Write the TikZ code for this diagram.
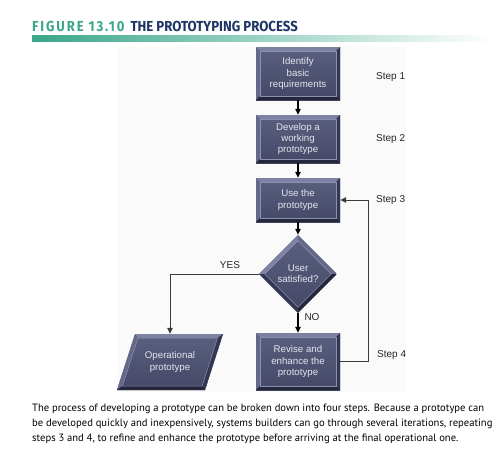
\documentclass[tikz,border=0pt]{standalone}
\usepackage{fontspec}
\setmainfont{Liberation Sans}
\newfontfamily\titlefont{Fira Sans}[FakeStretch=0.91]
\newfontfamily\titlefontsp{Fira Sans}[FakeStretch=0.9,LetterSpace=13]
\newfontfamily\capfont{PT Sans}
\usetikzlibrary{arrows.meta,shapes.geometric}
\definecolor{figteal}{RGB}{58,166,138}
\definecolor{fignavy}{RGB}{30,52,100}
\definecolor{faceA}{RGB}{92,96,128}
\definecolor{faceB}{RGB}{68,72,102}
\definecolor{faceline}{RGB}{140,144,175}
\definecolor{bevT}{RGB}{125,129,162}
\definecolor{bevL}{RGB}{100,104,138}
\definecolor{bevR}{RGB}{52,55,82}
\definecolor{bevB}{RGB}{36,38,60}
\definecolor{boxtext}{RGB}{228,228,238}
\definecolor{linegray}{RGB}{60,60,60}
\definecolor{panel}{RGB}{250,250,250}
\newcommand\bevrect{%
 \coordinate (sw) at (path picture bounding box.south west);
 \coordinate (ne) at (path picture bounding box.north east);
 \coordinate (nw) at (path picture bounding box.north west);
 \coordinate (se) at (path picture bounding box.south east);
 \shade[top color=faceA,bottom color=faceB] (sw) rectangle (ne);
 \fill[bevT] (nw) -- (ne) -- ([shift={(-4pt,-4pt)}]ne) -- ([shift={(4pt,-4pt)}]nw) -- cycle;
 \fill[bevL] (nw) -- (sw) -- ([shift={(4pt,4pt)}]sw) -- ([shift={(4pt,-4pt)}]nw) -- cycle;
 \fill[bevR] (ne) -- (se) -- ([shift={(-4pt,4pt)}]se) -- ([shift={(-4pt,-4pt)}]ne) -- cycle;
 \fill[bevB] (sw) -- (se) -- ([shift={(-4pt,4pt)}]se) -- ([shift={(4pt,4pt)}]sw) -- cycle;
 \draw[faceline,line width=0.5pt] ([shift={(4pt,4pt)}]sw) rectangle ([shift={(-4pt,-4pt)}]ne);
}
\newcommand\bevdiam{%
 \coordinate (sw) at (path picture bounding box.south west);
 \coordinate (ne) at (path picture bounding box.north east);
 \coordinate (dT) at (path picture bounding box.north);
 \coordinate (dB) at (path picture bounding box.south);
 \coordinate (dL) at (path picture bounding box.west);
 \coordinate (dR) at (path picture bounding box.east);
 \shade[top color=faceA,bottom color=faceB] (sw) rectangle (ne);
 \fill[bevT] (dL) -- (dT) -- ([yshift=-5.7pt]dT) -- ([xshift=5.7pt]dL) -- cycle;
 \fill[bevL] (dT) -- (dR) -- ([xshift=-5.7pt]dR) -- ([yshift=-5.7pt]dT) -- cycle;
 \fill[bevB] (dR) -- (dB) -- ([yshift=5.7pt]dB) -- ([xshift=-5.7pt]dR) -- cycle;
 \fill[bevR] (dB) -- (dL) -- ([xshift=5.7pt]dL) -- ([yshift=5.7pt]dB) -- cycle;
 \draw[faceline,line width=0.5pt] ([yshift=-5.7pt]dT) -- ([xshift=-5.7pt]dR) -- ([yshift=5.7pt]dB) -- ([xshift=5.7pt]dL) -- cycle;
}
\newcommand\bevpar{%
 \coordinate (pA) at (path picture bounding box.south west);
 \coordinate (pB) at ([xshift=18pt]path picture bounding box.north west);
 \coordinate (pC) at (path picture bounding box.north east);
 \coordinate (pD) at ([xshift=-18pt]path picture bounding box.south east);
 \coordinate (qA) at ([shift={(5.5pt,4pt)}]pA);
 \coordinate (qB) at ([shift={(2.9pt,-4pt)}]pB);
 \coordinate (qC) at ([shift={(-5.5pt,-4pt)}]pC);
 \coordinate (qD) at ([shift={(-2.9pt,4pt)}]pD);
 \shade[top color=faceA,bottom color=faceB] (pA) -- (pB) -- (pC) -- (pD) -- cycle;
 \fill[bevT] (pB) -- (pC) -- (qC) -- (qB) -- cycle;
 \fill[bevL] (pA) -- (pB) -- (qB) -- (qA) -- cycle;
 \fill[bevR] (pC) -- (pD) -- (qD) -- (qC) -- cycle;
 \fill[bevB] (pA) -- (pD) -- (qD) -- (qA) -- cycle;
 \draw[faceline,line width=0.5pt] (qA) -- (qB) -- (qC) -- (qD) -- cycle;
}
\tikzset{
 boxtxt/.style={inner sep=0pt, align=center, text=boxtext, font=\fontsize{9.7}{11.2}\selectfont},
 stepbox/.style={boxtxt, minimum width=84pt, minimum height=#1, path picture={\bevrect}},
 decbox/.style={boxtxt, shape=diamond, aspect=1, minimum width=78pt, minimum height=78pt, path picture={\bevdiam}},
 parbox/.style={boxtxt, minimum width=106pt, minimum height=56pt, path picture={\bevpar}},
 steplbl/.style={anchor=west, inner sep=0pt, text=black!85, font=\fontsize{10}{12}\selectfont},
 arr/.style={draw=black, line width=1.1pt, -{Triangle[length=6pt,width=5.5pt]}},
 grayarr/.style={draw=linegray, line width=1pt, -{Triangle[length=6pt,width=5.5pt]}, color=linegray},
 caption/.style={anchor=base west, inner sep=0pt, font=\capfont\fontsize{10.6}{15}\selectfont},
}
\begin{document}
\begin{tikzpicture}[x=1pt,y=-1pt]
\useasboundingbox (0,0) rectangle (500,456);
\fill[white] (0,0) rectangle (500,456);
\fill[panel] (117,47) rectangle (406,392);
\node[anchor=base west, inner sep=0pt, font=\bfseries\fontsize{14.5}{16}\selectfont] (title) at (32,31) {\textcolor{figteal}{\titlefontsp FIGURE 13.10}\hspace{6pt}\textcolor{fignavy}{\titlefont THE PROTOTYPING PROCESS}};
\shade[left color=figteal, right color=white] (32,35) rectangle (492,41);

\node[stepbox=53pt] (b1) at (298,73.5) {Identify\\basic\\requirements};
\node[stepbox=48pt] (b2) at (298,139) {Develop a\\working\\prototype};
\node[stepbox=44pt] (b3) at (298,200) {Use the\\prototype};
\node[decbox] (d) at (298,274) {User\\satisfied?};
\node[stepbox=57pt] (b4) at (298,361.5) {Revise and\\enhance the\\prototype};
\node[parbox] (p) at (170,362) {Operational\\prototype};

\node[steplbl] (s1) at (376,77) {Step 1};
\node[steplbl] (s2) at (376,139) {Step 2};
\node[steplbl] (s3) at (376,200) {Step 3};
\node[steplbl] (s4) at (377,355) {Step 4};

\draw[arr] (b1.south) -- (b2.north);
\draw[arr] (b2.south) -- (b3.north);
\draw[arr] (b3.south) -- (d.north);
\draw[arr] (d.south) -- (b4.north);
\draw[grayarr] (d.west) -| (p.north);
\coordinate (fb) at (368,361.5);
\draw[grayarr] (b4.east) -- (fb) |- (b3.east);

\node[inner sep=0pt, font=\fontsize{10}{12}\selectfont, text=black!85] (yes) at (230,265) {YES};
\node[inner sep=0pt, font=\fontsize{10}{12}\selectfont, text=black!85] (no) at (312,317) {NO};

\node[caption] (c1) at (32,411) {The process of developing a prototype can be broken down into four steps. Because a prototype can};
\node[caption] (c2) at (32,426) {be developed quickly and inexpensively, systems builders can go through several iterations, repeating};
\node[caption] (c3) at (32,441) {steps 3 and 4, to refine and enhance the prototype before arriving at the final operational one.};
\end{tikzpicture}
\end{document}
